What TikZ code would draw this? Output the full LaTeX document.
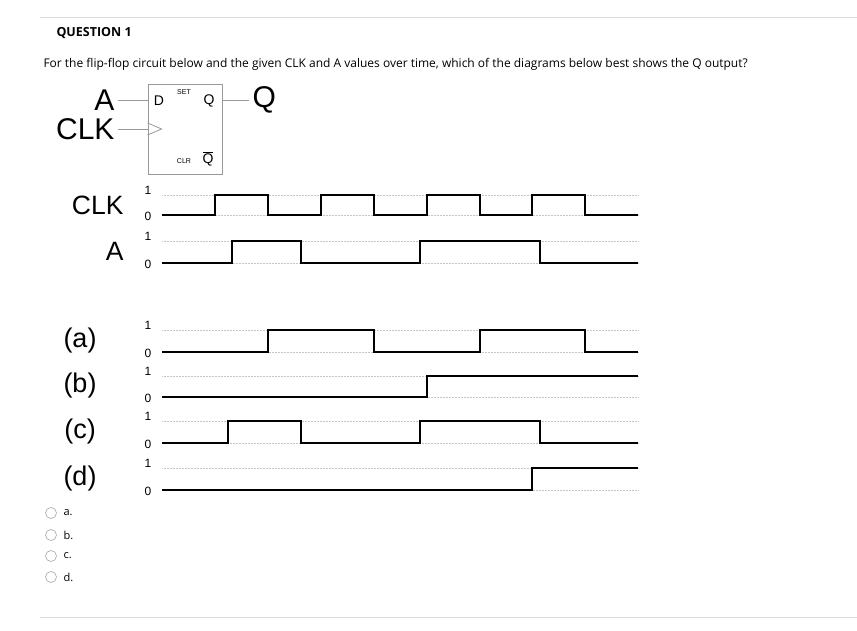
\documentclass[tikz,border=0pt]{standalone}
\usepackage{fontspec}
\usetikzlibrary{calc}
\setmainfont{Open Sans}
\newfontfamily\arial{Liberation Sans}
\begin{document}
\begin{tikzpicture}[x=1pt,y=-1pt,
  wave/.style={line width=1.6pt,line join=miter},
  guide/.style={gray!45,line width=0.6pt,dash pattern=on 1pt off 0.5pt},
  lvl/.style={font=\arial\fontsize{12}{12}\selectfont,anchor=center},
  big/.style={font=\arial\fontsize{30}{30}\selectfont},
  big2/.style={font=\arial\fontsize{26.5}{26.5}\selectfont},
  sig/.style={font=\arial\fontsize{27}{27}\selectfont},
  radio/.style={circle,draw=gray!70,line width=0.6pt,minimum size=11pt,inner sep=0pt},
  opt/.style={font=\fontsize{11}{11}\selectfont,anchor=west}]
\useasboundingbox (0,0) rectangle (857,631);
\draw[gray!30] (40,17) -- (857,17);
\draw[gray!30] (40,617) -- (857,617);
\node[anchor=west,font=\bfseries\fontsize{12.5}{12.5}\selectfont] (title) at (53,33) {QUESTION 1};
\node[anchor=west,font=\fontsize{12}{12}\selectfont] (q) at (40,64) {For the flip-flop circuit below and the given CLK and A values over time, which of the diagrams below best shows the Q output?};
% flip flop
\node[draw=gray!80,line width=0.8pt,minimum width=74pt,minimum height=90pt,inner sep=0pt] (ff) at (185,129) {};
\node[font=\arial\fontsize{14}{14}\selectfont] (dl) at (159,101) {D};
\node[font=\arial\fontsize{7}{7}\selectfont] (set) at (184,92) {SET};
\node[font=\arial\fontsize{14}{14}\selectfont] (ql) at (209,101) {Q};
\node[font=\arial\fontsize{7}{7}\selectfont] (clr) at (184,161) {CLR};
\node[font=\arial\fontsize{14}{14}\selectfont] (qb) at (208,159) {$\overline{\mbox{Q}}$};
\draw[gray!80,line width=0.8pt] ($(ff.west)+(0,-6)$) coordinate (t1) -- ++(14,6) coordinate (t2) -- ++(-14,6);
\node[big,anchor=east] (A) at (118,100) {A};
\node[big,anchor=east] (C) at (118,129) {CLK};
\node[big,anchor=west] (Q) at (249,100) {Q};
\draw[gray!80,line width=0.8pt] (A.east) -- (ff.west |- A.east);
\draw[gray!80,line width=0.8pt] (C.east) -- (ff.west |- C.east);
\draw[gray!80,line width=0.8pt] (ff.east |- Q.west) -- (Q.west);
% waveform helper
\def\levels#1#2{\draw[guide] (162,#1) -- (638,#1); \draw[guide] (162,#2) -- (638,#2);
  \node[lvl] at (148,#1-5) {1}; \node[lvl] at (148,#2+1) {0};}
\levels{195}{215}
\node[big2,anchor=east] (clkl) at (127,205) {CLK};
\draw[wave] (162,215) -- (215,215) -- (215,195) -- (268,195) -- (268,215) -- (321,215) -- (321,195) -- (374,195) -- (374,215) -- (427,215) -- (427,195) -- (480,195) -- (480,215) -- (532,215) -- (532,195) -- (585,195) -- (585,215) -- (638,215);
\levels{241}{263}
\node[big2,anchor=east] (al) at (127,251) {A};
\draw[wave] (162,263) -- (232,263) -- (232,241) -- (301,241) -- (301,263) -- (420,263) -- (420,241) -- (540,241) -- (540,263) -- (638,263);
\levels{330}{352}
\node[sig] (la) at (80,341) {(a)};
\draw[wave] (162,352) -- (268,352) -- (268,330) -- (374,330) -- (374,352) -- (480,352) -- (480,330) -- (585,330) -- (585,352) -- (638,352);
\levels{376}{397}
\node[sig] (lb) at (80,386) {(b)};
\draw[wave] (162,397) -- (427,397) -- (427,376) -- (638,376);
\levels{421}{443}
\node[sig] (lc) at (80,432) {(c)};
\draw[wave] (162,443) -- (228,443) -- (228,421) -- (301,421) -- (301,443) -- (420,443) -- (420,421) -- (540,421) -- (540,443) -- (638,443);
\levels{468}{490}
\node[sig] (ld) at (80,479) {(d)};
\draw[wave] (162,490) -- (532,490) -- (532,468) -- (638,468);
% options
\foreach \y/\t [count=\i] in {513/a.,535/b.,556/c.,577/d.}{
  \node[radio] (r\i) at (51,\y) {};
  \node[opt] (o\i) at (60,\y) {\t};
}
\end{tikzpicture}
\end{document}
